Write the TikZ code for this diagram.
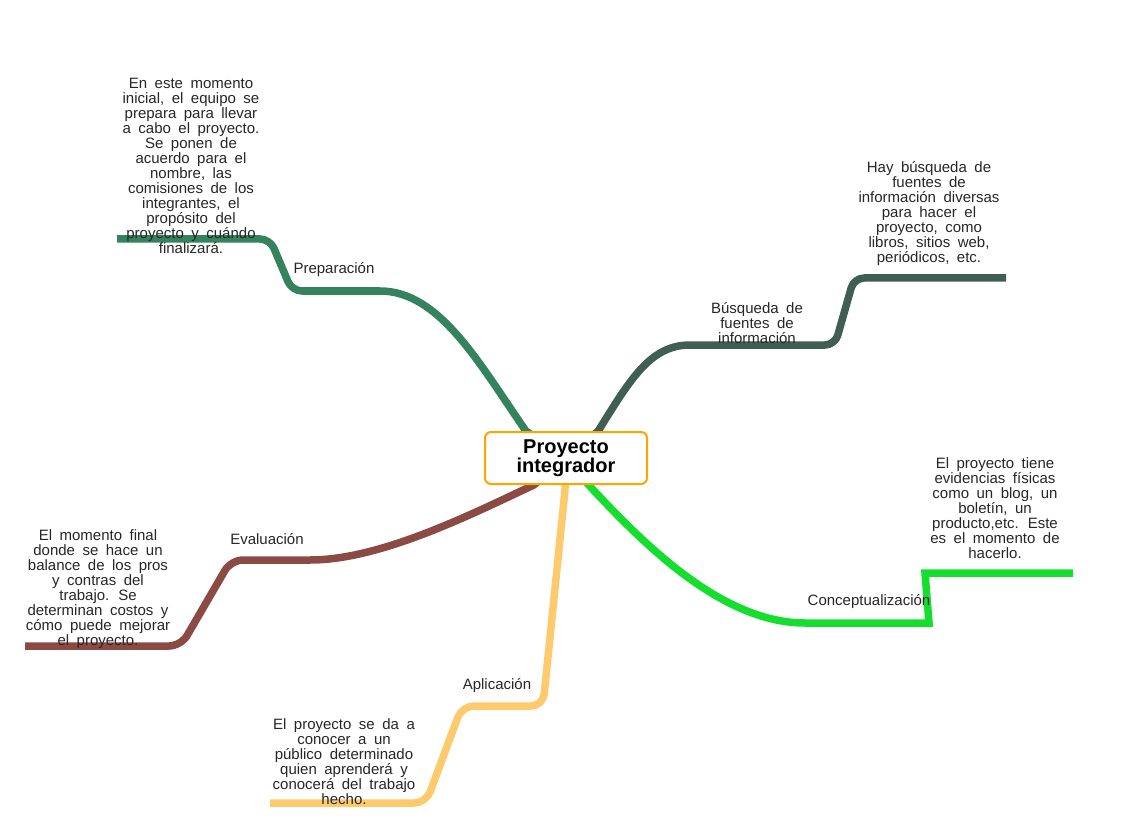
\documentclass[tikz,border=0pt]{standalone}
\usepackage{fontspec}
\setmainfont{Liberation Sans}
\usetikzlibrary{backgrounds}
\definecolor{borde}{HTML}{FFA500}
\definecolor{prep}{HTML}{35825F}
\definecolor{busq}{HTML}{405E53}
\definecolor{concep}{HTML}{16DE2E}
\definecolor{aplic}{HTML}{FDCB6E}
\definecolor{evalu}{HTML}{8B4B44}
\begin{document}
\begin{tikzpicture}[x=1pt,y=-1pt]
      \useasboundingbox (0,0) rectangle (1132,834);

      \node (c) [rectangle, rounded corners=6pt, draw=borde, line width=2pt, fill=white,
        minimum width=162pt, minimum height=52pt, inner sep=0pt, align=center,
        font=\fontsize{20}{19.5}\selectfont\bfseries] at (566,458) {Proyecto\\integrador};

      \begin{scope}[every node/.style={align=center, inner sep=0pt, text=black!85,
          font=\fontsize{15}{15}\selectfont,
          execute at begin node={\spaceskip=0.5em plus 0.1em\relax}}]
        \node (lp) at (334,270) {Preparación};
        \node (lb) at (757,323) {Búsqueda de\\fuentes de\\información};
        \node (lc) at (869,602) {Conceptualización};
        \node (la) at (497,686) {Aplicación};
        \node (le) at (267,539) {Evaluación};
        \node (tp) at (191,166) {En este momento\\inicial, el equipo se\\prepara para llevar\\a cabo el proyecto.\\Se ponen de\\acuerdo para el\\nombre, las\\comisiones de los\\integrantes, el\\propósito del\\proyecto y cuándo\\finalizará.};
        \node (tb) at (929,214) {Hay búsqueda de\\fuentes de\\información diversas\\para hacer el\\proyecto, como\\libros, sitios web,\\periódicos, etc.};
        \node (tc) at (995,508) {El proyecto tiene\\evidencias físicas\\como un blog, un\\boletín, un\\producto,etc. Este\\es el momento de\\hacerlo.};
        \node (ta) at (344,762) {El proyecto se da a\\conocer a un\\público determinado\\quien aprenderá y\\conocerá del trabajo\\hecho.};
        \node (te) at (98,589) {El momento final\\donde se hace un\\balance de los pros\\y contras del\\trabajo. Se\\determinan costos y\\cómo puede mejorar\\el proyecto.};
      \end{scope}

      \begin{scope}[on background layer]
      \begin{scope}[every path/.style={line width=7.5pt, line join=round}]
        \draw[prep] (c.center) -- (c.146) .. controls (480,365) and (440,291) .. (380,291)
          [rounded corners=10pt] -- (292,291) -- (270,239) -- (117,239);
        \draw[busq] (c.center) -- (c.40) .. controls (630,380) and (650,345) .. (690,345)
          [rounded corners=10pt] -- (835,345) -- (854,278) -- (1006,278);
        \draw[concep, line join=miter] (c.center) -- (c.-50) .. controls (640,540) and (720,623) .. (805,623)
          -- (929,623) -- (925,573) -- (1073,573);
        \draw[aplic, rounded corners=12pt] (c.center) -- (c.-91) -- (543,706) -- (462,706)
          -- (426,803) -- (270,803);
        \draw[evalu] (c.center) -- (c.-140) .. controls (470,515) and (380,560) .. (310,560)
          [rounded corners=12pt] -- (231,560) -- (181,646) -- (25,646);
      \end{scope}
      \end{scope}

    \end{tikzpicture}
\end{document}
